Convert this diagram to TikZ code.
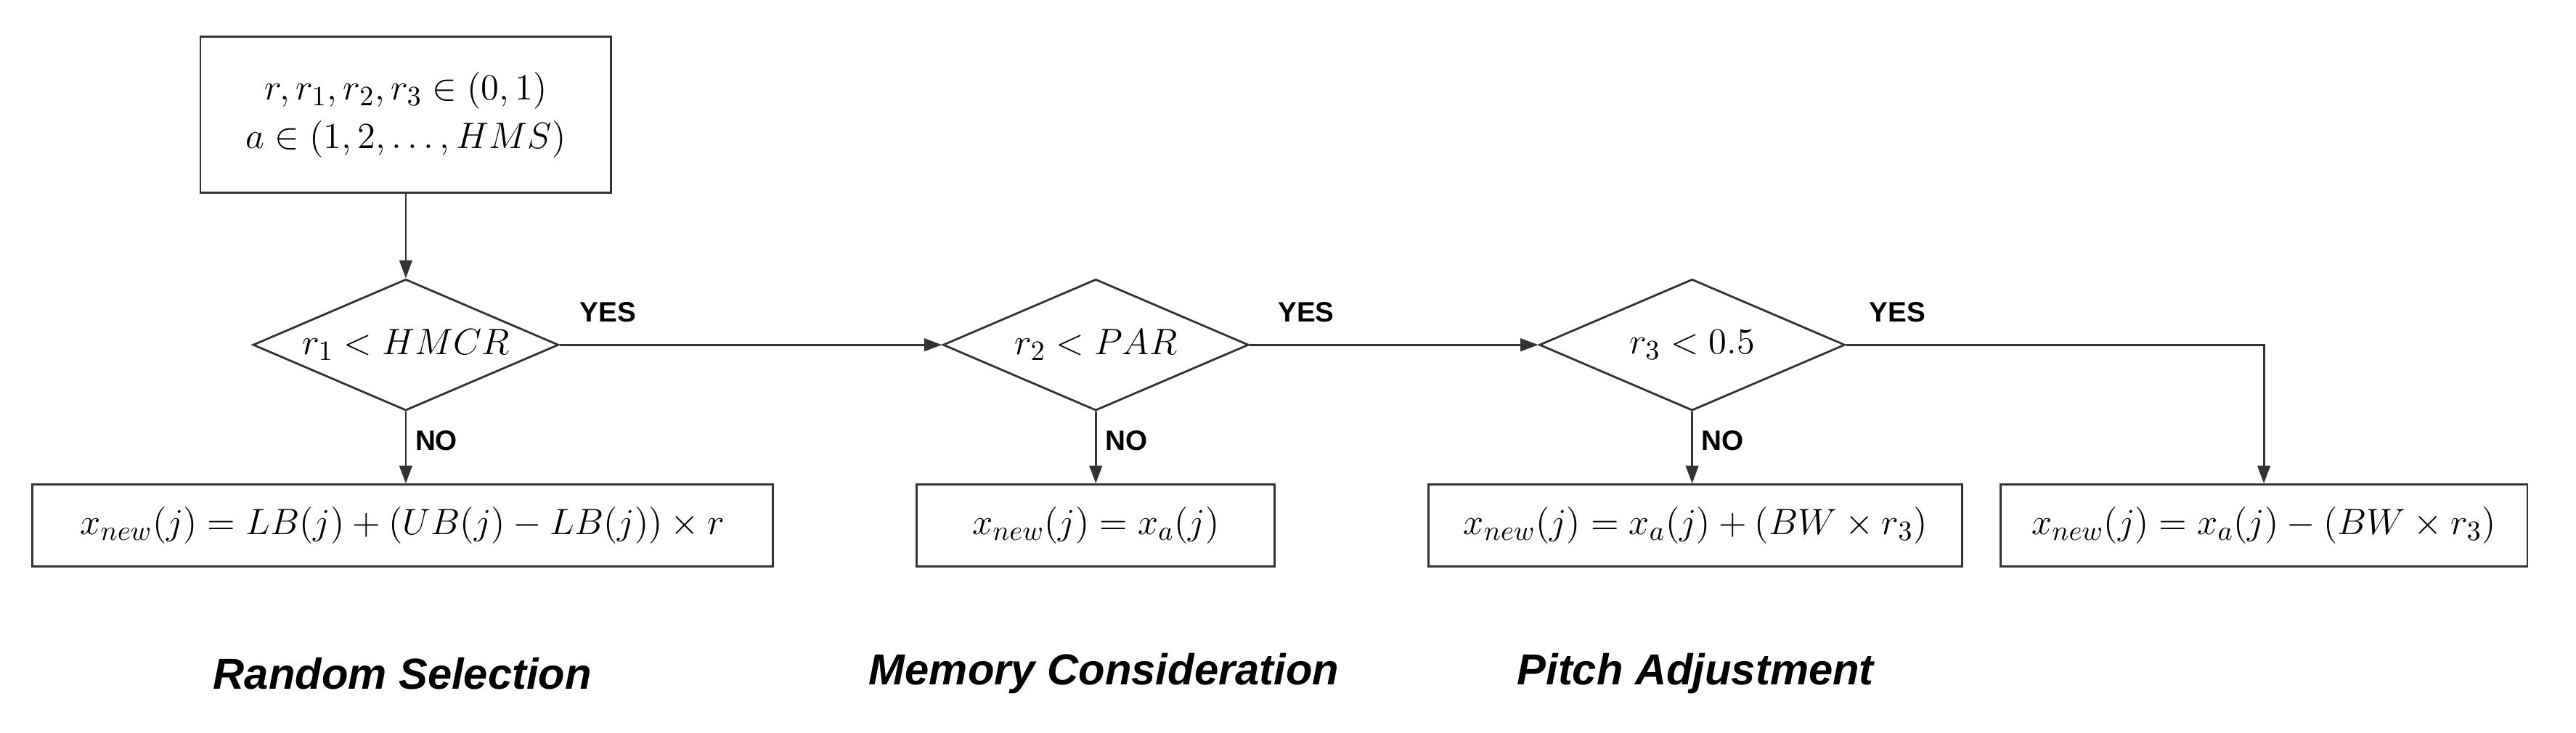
\documentclass[tikz,border=0pt]{standalone}
\usepackage{fontspec}
\newfontfamily\labfont{Liberation Sans}
\usetikzlibrary{shapes.geometric,arrows.meta,positioning}
\tikzset{>={Triangle[length=7pt,width=5pt]}}
\tikzstyle{box}=[draw=black!80,line width=0.8pt,minimum height=1.13cm,inner sep=2pt,font=\fontsize{15}{19}\selectfont]
\tikzstyle{test}=[diamond,draw=black!80,line width=0.8pt,minimum width=4.21cm,minimum height=1.81cm,aspect=2.3,inner sep=0pt,font=\fontsize{15}{19}\selectfont]
\tikzstyle{flow}=[->,draw=black!80,line width=0.8pt]
\tikzstyle{answer}=[font=\labfont\bfseries\fontsize{11}{13}\selectfont]
\tikzstyle{stage}=[font=\labfont\bfseries\itshape\fontsize{17}{20}\selectfont]

\begin{document}
\begin{tikzpicture}[x=0.02263cm,y=-0.02263cm]
	\useasboundingbox (0,0) rectangle (1568,446);
	% nodes
	\node [box,minimum width=5.66cm,minimum height=2.15cm,align=center] (init) at (247,70) {$r,r_1,r_2,r_3\in(0,1)$\\$a\in(1,2,\ldots,HMS)$};
	\node [test] (hmcr) at (247,210) {$r_1<HMCR$};
	\node [test] (par) at (667,210) {$r_2<PAR$};
	\node [test] (half) at (1030,210) {$r_3<0.5$};
	\node [box,minimum width=10.2cm] (rand) at (245,320) {$x_{new}(j)=LB(j)+\bigl(UB(j)-LB(j)\bigr)\times r$};
	\node [box,minimum width=4.93cm] (mem) at (667,320) {$x_{new}(j)=x_a(j)$};
	\node [box,minimum width=7.35cm] (plus) at (1032,320) {$x_{new}(j)=x_a(j)+\bigl(BW\times r_3\bigr)$};
	\node [box,minimum width=7.26cm] (minus) at (1378,320) {$x_{new}(j)=x_a(j)-\bigl(BW\times r_3\bigr)$};
	\coordinate (turn) at (minus.north |- half.east);
	% connectors
	\draw [flow] (init) -- (hmcr);
	\draw [flow] (hmcr) -- node [answer,right,pos=0.4] {NO} (hmcr |- rand.north);
	\draw [flow] (par) -- node [answer,right,pos=0.4] {NO} (par |- mem.north);
	\draw [flow] (half) -- node [answer,right,pos=0.4] {NO} (half |- plus.north);
	\draw [flow] (hmcr.east) -- (par.west);
	\draw [flow] (par.east) -- (half.west);
	\draw [flow] (half.east) -- (turn) -- (minus.north);
	\node [answer] (yes1) at (370,190) {YES};
	\node [answer] (yes2) at (795,190) {YES};
	\node [answer] (yes3) at (1155,190) {YES};
	% stage labels
	\node [stage] (s1) at (245,410) {Random Selection};
	\node [stage] (s2) at (672,410) {Memory Consideration};
	\node [stage] (s3) at (1032,410) {Pitch Adjustment};
\end{tikzpicture}
\end{document}
